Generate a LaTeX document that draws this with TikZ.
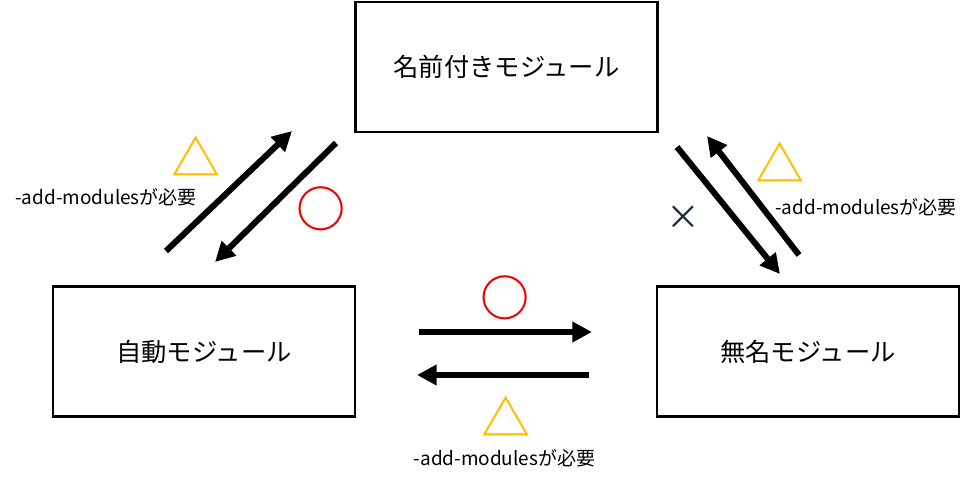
\documentclass[tikz,border=0pt]{standalone}
\usepackage{fontspec}
\setmainfont{Noto Sans CJK JP}[BoldFont={Noto Sans CJK JP Bold}]
\usetikzlibrary{arrows.meta}
\definecolor{okred}{RGB}{240,0,0}
\definecolor{warnorange}{RGB}{255,190,0}
\definecolor{ngnavy}{RGB}{20,45,60}
\tikzset{
  module/.style={draw, line width=2pt, inner sep=0pt,
    minimum width=7.55cm, minimum height=3.25cm,
    font=\fontsize{18}{20}\selectfont},
  flow/.style={line width=4.3pt, -{Triangle[length=14pt,width=14pt]}},
  sign/.style={inner sep=0pt, font=\fontsize{35}{35}\selectfont\bfseries},
  note/.style={inner sep=0pt, font=\fontsize{13.5}{15}\selectfont}
}
\begin{document}
\begin{tikzpicture}[x=0.025cm, y=-0.025cm]
  \useasboundingbox (0,0) rectangle (976,481);
  % modules
  \node[module] (named) at (506.5,67) {名前付きモジュール};
  \node[module] (auto) at (204,351.5) {自動モジュール};
  \node[module] (unnamed) at (808,351.5) {無名モジュール};
  % arrow ends
  \coordinate (a1) at (166,251);
  \coordinate (a2) at (292,131);
  \coordinate (b1) at (336,143);
  \coordinate (b2) at (215,262);
  \coordinate (c1) at (677,147);
  \coordinate (c2) at (780,274);
  \coordinate (d1) at (799,255);
  \coordinate (d2) at (707,136);
  \coordinate (e1) at (419,332);
  \coordinate (e2) at (592,332);
  \coordinate (f1) at (589,375);
  \coordinate (f2) at (417,375);
  \draw[flow] (a1) -- (a2);
  \draw[flow] (b1) -- (b2);
  \draw[flow] (c1) -- (c2);
  \draw[flow] (d1) -- (d2);
  \draw[flow] (e1) -- (e2);
  \draw[flow] (f1) -- (f2);
  % signs
  \node[sign, text=warnorange] (triL) at (196,156) {△};
  \node[sign, text=okred] (okL) at (321,209) {○};
  \node[note, anchor=west] (noteL) at (15,197) {-add-modulesが必要};
  \node[sign, text=warnorange] (triR) at (780,162) {△};
  \node[sign, text=ngnavy, font=\fontsize{24}{24}\selectfont] (ngR) at (683,218) {×};
  \node[note, anchor=west] (noteR) at (775,207) {-add-modulesが必要};
  \node[sign, text=okred] (okM) at (505,298) {○};
  \node[sign, text=warnorange] (triM) at (506,416) {△};
  \node[note] (noteM) at (504.5,458) {-add-modulesが必要};
\end{tikzpicture}
\end{document}
